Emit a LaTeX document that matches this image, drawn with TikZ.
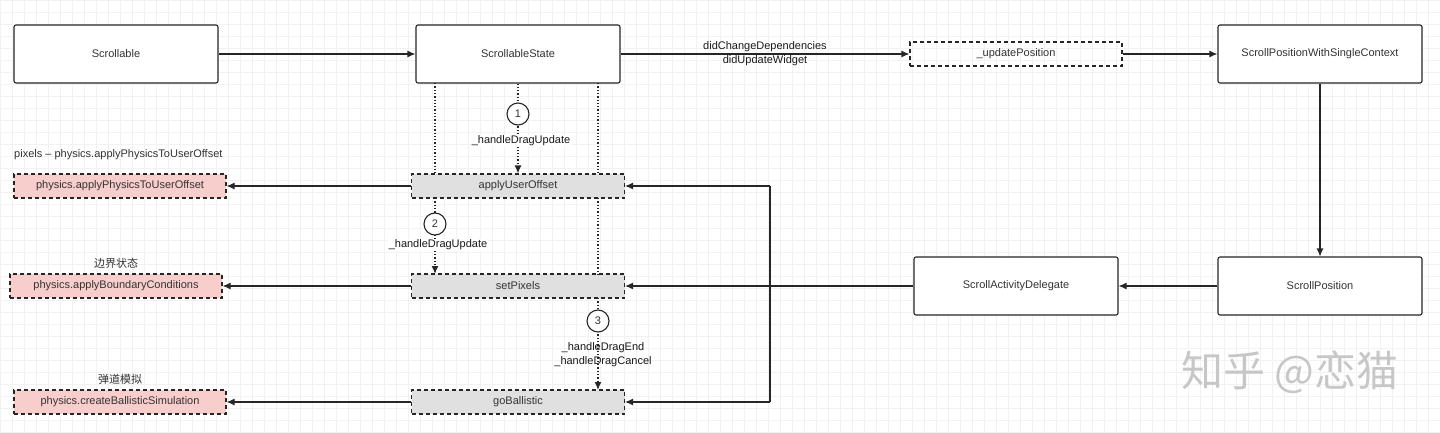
\documentclass[tikz,border=0pt]{standalone}
\usepackage{fontspec}
\setmainfont{Liberation Sans}
\newfontfamily\cjk{Noto Sans CJK SC}
\usetikzlibrary{arrows.meta}
\definecolor{pk}{HTML}{F8CECC}
\begin{document}
\begin{tikzpicture}[x=1pt,y=-1pt,
  every node/.style={font=\fontsize{11}{13}\selectfont, text=black!80},
  box/.style={draw=black!85, line width=1.1pt, rounded corners=2pt, fill=white, minimum width=204pt, minimum height=58pt, inner sep=0},
  dbox/.style={draw=black!85, line width=1.1pt, dash pattern=on 4pt off 3pt, minimum width=213pt, minimum height=24pt, inner sep=0},
  gbox/.style={dbox, fill=black!12},
  rbox/.style={dbox, fill=pk},
  arr/.style={draw=black!85, line width=1.1pt, -{Latex[length=8pt,width=7pt]}},
  dot/.style={draw=black!85, line width=1.3pt, dash pattern=on 1.3pt off 2pt},
  darr/.style={dot, -{Latex[length=8pt,width=7pt]}},
  num/.style={circle, draw=black!85, line width=1.1pt, fill=white, minimum size=22pt, inner sep=0},
  lab/.style={fill=white, inner sep=1pt, align=center, text=black!90}]
\useasboundingbox (0,0) rectangle (1440,432);
\fill[white] (0,0) rectangle (1440,432);
\draw[black!5, line width=0.5pt, step=12pt] (0,0) grid (1440,432);
\node[box] (s) at (116,54) {Scrollable};
\node[box] (ss) at (518,54) {ScrollableState};
\node[dbox, minimum width=212pt] (up) at (1016,54) {\_updatePosition};
\node[box] (spc) at (1320,54) {ScrollPositionWithSingleContext};
\node[box] (sp) at (1320,286) {ScrollPosition};
\node[box] (sad) at (1016,286) {ScrollActivityDelegate};
\node[gbox] (au) at (518,186) {applyUserOffset};
\node[gbox] (px) at (518,286) {setPixels};
\node[gbox] (gb) at (518,402) {goBallistic};
\node[rbox, minimum width=212pt] (pa) at (120,186) {physics.applyPhysicsToUserOffset};
\node[rbox, minimum width=212pt] (pb) at (116,286) {physics.applyBoundaryConditions};
\node[rbox, minimum width=212pt] (pc) at (120,402) {physics.createBallisticSimulation};
\node[anchor=west, inner sep=0] (t1) at (14,155) {pixels – physics.applyPhysicsToUserOffset};
\node[inner sep=0] (t2) at (116,263) {\cjk 边界状态};
\node[inner sep=0] (t3) at (120,379) {\cjk 弹道模拟};
\draw[arr] (s) -- (ss);
\draw[arr] (ss) -- node[lab, fill=none, font=\fontsize{11}{14}\selectfont]{didChangeDependencies\\didUpdateWidget} (up);
\draw[arr] (up) -- (spc);
\draw[arr] (spc) -- (sp);
\draw[arr] (sp) -- (sad);
\draw[arr] (sad) -- (px);
\coordinate (ja) at (770,186);
\coordinate (jb) at (770,402);
\draw[draw=black!85, line width=1.1pt] (ja) -- (jb);
\draw[arr] (ja) -- (au);
\draw[arr] (jb) -- (gb);
\draw[arr] (au) -- (pa);
\draw[arr] (px) -- (pb);
\draw[arr] (gb) -- (pc);
\coordinate (a1) at (435,83); \coordinate (a2) at (435,174);
\coordinate (b1) at (598,83); \coordinate (b2) at (598,174);
\draw[dot] (a1) -- (a2);
\draw[dot] (b1) -- (b2);
\draw[darr] (ss.south) -- (au.north);
\node[num] (n1) at (518,114) {1};
\node[lab] (l1) at (521,141) {\_handleDragUpdate};
\coordinate (c1) at (435,198); \coordinate (c2) at (435,274);
\coordinate (d1) at (598,198); \coordinate (d2) at (598,274);
\coordinate (e1) at (598,298); \coordinate (e2) at (598,390);
\draw[darr] (c1) -- (c2);
\draw[dot] (d1) -- (d2);
\draw[darr] (e1) -- (e2);
\node[num] (n2) at (435,224) {2};
\node[lab] (l2) at (438,245) {\_handleDragUpdate};
\node[num] (n3) at (598,321) {3};
\node[lab, fill=none, inner sep=0, font=\fontsize{11}{14}\selectfont] (l3) at (603,355) {\_handleDragEnd\\\_handleDragCancel};
\node[text=black!22, font=\cjk\fontsize{42}{42}\selectfont] (wm) at (1290,372) {知乎 @恋猫};
\end{tikzpicture}
\end{document}
